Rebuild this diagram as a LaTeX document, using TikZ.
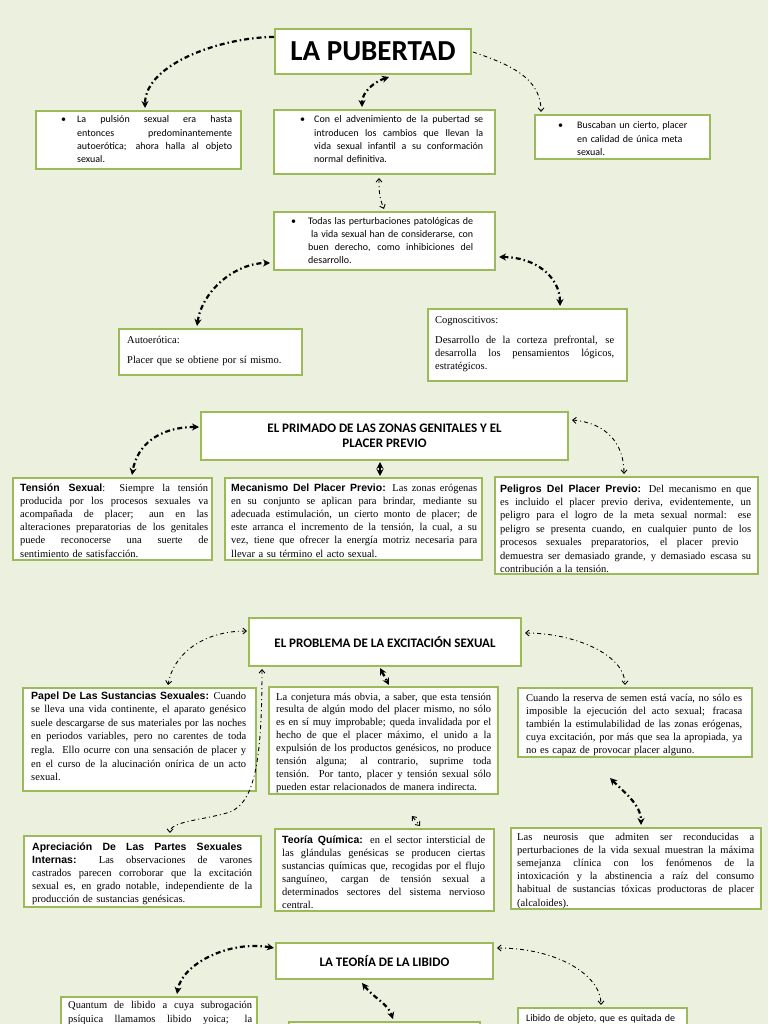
\documentclass[tikz,border=0pt]{standalone}
\usepackage{fontspec}
\setmainfont{Liberation Serif}
\newfontfamily\calfnt{Carlito}
\newfontfamily\arifnt{Liberation Sans}
\usetikzlibrary{arrows.meta,calc}
\definecolor{bg}{HTML}{EBF1DE}
\definecolor{gb}{HTML}{9BBB59}
\newcommand\jl[1]{\leavevmode\hbox to\hsize{\spaceskip=0pt\xspaceskip=0pt #1}}
\newcommand\jlw[2]{\leavevmode\hbox to#1\hsize{\spaceskip=0pt\xspaceskip=0pt #2}}
\newcommand\bx[5]{\node[box, minimum width={#4-#2}, minimum height={#5-#3}] (#1) at (#2,#3) {};}
\newcommand\tb[7]{\node[box, ttl, font=#6, minimum width={#4-#2}, minimum height={#5-#3}] (#1) at (#2,#3) {#7};}
\tikzset{tk/.tip={Stealth[length=7pt,width=7pt]}, tn/.tip={Straight Barb[length=3.5pt,width=6pt]}}
\begin{document}
\begin{tikzpicture}[x=1pt,y=-1pt,
  box/.style={draw=gb, line width=2pt, fill=white, anchor=north west, inner sep=0pt},
  ttl/.style={align=center},
  txt/.style={anchor=base west, inner sep=0pt, align=left},
  sf/.style={font=\calfnt\fontsize{10}{13.3}\selectfont},
  sr/.style={font=\fontsize{10.5}{13.2}\selectfont},
  thk/.style={line width=2.2pt, dash pattern=on 5pt off 3pt on 1.5pt off 3pt, black},
  thn/.style={line width=0.9pt, dash pattern=on 4pt off 3pt on 1pt off 3pt, black}]
\fill[bg] (0,0) rectangle (768,1024);
\useasboundingbox (0,0) rectangle (768,1024);

% ---- boxes ----
\tb{t1}{274}{28}{470}{73}{\calfnt\bfseries\fontsize{29}{32}\selectfont}{\raisebox{-3pt}{LA PUBERTAD}}
\bx{bA}{35}{110}{240}{168}
\bx{bB}{273}{109}{494}{173}
\bx{bC}{534}{114}{709}{158}
\bx{bD}{273}{211}{494}{269}
\bx{bE}{118}{328}{301}{374}
\bx{bF}{427}{308}{626}{380}
\tb{t2}{200}{411}{567}{459}{\calfnt\bfseries\fontsize{13}{15.5}\selectfont}{EL PRIMADO DE LAS ZONAS GENITALES Y EL\\PLACER PREVIO}
\bx{bTS}{12}{477}{211}{559}
\bx{bMP}{224}{477}{481}{559}
\bx{bPP}{494}{476}{757}{573}
\tb{t3}{248}{617}{520}{665}{\calfnt\bfseries\fontsize{13}{15.5}\selectfont}{EL PROBLEMA DE LA EXCITACIÓN SEXUAL}
\bx{bPa}{22}{687}{255}{790}
\bx{bCo}{268}{686}{497}{793}
\bx{bCu}{517}{687}{751}{756}
\bx{bAp}{23}{835}{260}{906}
\bx{bTQ}{274}{828}{493}{910}
\bx{bNe}{510}{827}{760}{908}
\tb{t4}{275}{942}{492}{978}{\calfnt\bfseries\fontsize{13}{15.5}\selectfont}{LA TEORÍA DE LA LIBIDO}
\bx{bQu}{60}{996}{256}{1040}
\bx{bLo}{517}{1007}{686}{1040}
\bx{bMi}{288}{1021}{479}{1040}

% ---- texts ----
\node[txt, sf, text width=155pt] (tA) at (77,123) {\llap{•\hspace{11pt}}\jl{La pulsión sexual era hasta}\\\jl{entonces predominantemente}\\\jl{autoerótica; ahora halla al objeto}\\sexual.};
\node[txt, sf, text width=169pt] (tB) at (314,123) {\llap{•\hspace{9pt}}\jl{Con el advenimiento de la pubertad se}\\\jl{introducen los cambios que llevan la}\\\jl{vida sexual infantil a su conformación}\\normal definitiva.};
\node[txt, sf, text width=128pt] (tC) at (577,129) {\llap{•\hspace{14pt}}Buscaban un cierto, placer\\en calidad de única meta\\sexual.};
\node[txt, font=\calfnt\fontsize{10}{13}\selectfont, text width=165pt] (tD) at (308,225) {\llap{•\hspace{12pt}}\jl{Todas las perturbaciones patológicas de}\\\jl{\hspace{3pt}la vida sexual han de considerarse, con}\\\jl{buen derecho, como inhibiciones del}\\desarrollo.};
\node[txt, sr, text width=168pt] (tE) at (127,343) {Autoerótica:\\[7pt]Placer que se obtiene por sí mismo.};
\node[txt, sr, text width=179pt] (tF) at (435,323) {Cognoscitivos:\\[7pt]\jl{Desarrollo de la corteza prefrontal, se}\\\jl{desarrolla los pensamientos lógicos,}\\estratégicos.};

\node[txt, sr, text width=188pt] (tTS) at (20,491) {\jl{{\arifnt\bfseries Tensión Sexual}: Siempre la tensión}\\\jl{producida por los procesos sexuales va}\\\jl{acompañada de placer; aun en las}\\\jl{alteraciones preparatorias de los genitales}\\\jl{puede reconocerse una suerte de}\\sentimiento de satisfacción.};
\node[txt, sr, text width=246pt] (tMP) at (231,491) {\jl{{\arifnt\bfseries Mecanismo Del Placer Previo:} Las zonas erógenas}\\\jl{en su conjunto se aplican para brindar, mediante su}\\\jl{adecuada estimulación, un cierto monto de placer; de}\\\jl{este arranca el incremento de la tensión, la cual, a su}\\\jl{vez, tiene que ofrecer la energía motriz necesaria para}\\llevar a su término el acto sexual.};
\node[txt, font=\fontsize{10.5}{13.4}\selectfont, text width=251pt] (tPP) at (500,492) {\jl{{\arifnt\bfseries Peligros Del Placer Previo:} Del mecanismo en que}\\\jl{es incluido el placer previo deriva, evidentemente, un}\\\jl{peligro para el logro de la meta sexual normal: ese}\\\jl{peligro se presenta cuando, en cualquier punto de los}\\\jlw{0.95}{procesos sexuales preparatorios, el placer previo}\\\jl{demuestra ser demasiado grande, y demasiado escasa su}\\contribución a la tensión.};

\node[txt, font=\fontsize{10.5}{13.6}\selectfont, text width=215pt] (tPa) at (31,699) {\jl{{\arifnt\bfseries Papel De Las Sustancias Sexuales:} Cuando}\\\jl{se lleva una vida continente, el aparato genésico}\\\jl{suele descargarse de sus materiales por las noches}\\\jl{en periodos variables, pero no carentes de toda}\\\jl{regla. Ello ocurre con una sensación de placer y}\\\jl{en el curso de la alucinación onírica de un acto}\\sexual.};
\node[txt, font=\fontsize{10.5}{12.9}\selectfont, text width=215pt] (tCo) at (276,700) {\jl{La conjetura más obvia, a saber, que esta tensión}\\\jl{resulta de algún modo del placer mismo, no sólo}\\\jl{es en sí muy improbable; queda invalidada por el}\\\jl{hecho de que el placer máximo, el unido a la}\\\jl{expulsión de los productos genésicos, no produce}\\\jl{tensión alguna; al contrario, suprime toda}\\\jl{tensión. Por tanto, placer y tensión sexual sólo}\\pueden estar relacionados de manera indirecta.};
\node[txt, sr, text width=216pt] (tCu) at (526,701) {\jl{Cuando la reserva de semen está vacía, no sólo es}\\\jl{imposible la ejecución del acto sexual; fracasa}\\\jl{también la estimulabilidad de las zonas erógenas,}\\\jl{cuya excitación, por más que sea la apropiada, ya}\\no es capaz de provocar placer alguno.};

\node[txt, font=\fontsize{10.5}{13}\selectfont, text width=220pt] (tAp) at (32,850) {\jlw{0.955}{\arifnt\bfseries Apreciación De Las Partes Sexuales}\\\jl{{\arifnt\bfseries Internas:} Las observaciones de varones}\\\jl{castrados parecen corroborar que la excitación}\\\jl{sexual es, en grado notable, independiente de la}\\producción de sustancias genésicas.};
\node[txt, font=\fontsize{10.5}{13}\selectfont, text width=203pt] (tTQ) at (282,843) {\jl{{\arifnt\bfseries Teoría Química:} en el sector intersticial de}\\\jl{las glándulas genésicas se producen ciertas}\\\jl{sustancias químicas que, recogidas por el flujo}\\\jl{sanguíneo, cargan de tensión sexual a}\\\jl{determinados sectores del sistema nervioso}\\central.};
\node[txt, sr, text width=237pt] (tNe) at (517,840) {\jl{Las neurosis que admiten ser reconducidas a}\\\jl{perturbaciones de la vida sexual muestran la máxima}\\\jl{semejanza clínica con los fenómenos de la}\\\jl{intoxicación y la abstinencia a raíz del consumo}\\\jl{habitual de sustancias tóxicas productoras de placer}\\(alcaloides).};

\node[txt, font=\fontsize{10.5}{14}\selectfont, text width=184pt] (tQu) at (68,1008) {\jl{Quantum de libido a cuya subrogación}\\\jl{psíquica llamamos libido yoica; la}};
\node[txt, sf, text width=152pt] (tLo) at (526,1021) {Libido de objeto, que es quitada de};

% ---- connectors ----
\coordinate (c11) at (230,812);
\draw[thk, -{tk}] ($(t1.north west)+(0,9)$) .. controls +(-50,0) and +(0,-45) .. ($(bA.north west)+(110,-2)$);
\draw[thk, {tk}-{tk}] ($(t1.south west)+(115,2)$) .. controls +(-15,5) and +(0,-15) .. ($(bB.north west)+(89,-2)$);
\draw[thn, -{tn}] ($(t1.north east)+(1,24)$) .. controls +(35,12) and +(0,-35) .. ($(bC.north west)+(7,-2)$);
\draw[thn, {tn}-{tn}] ($(bB.south west)+(106,3)$) .. controls +(0,12) and +(-5,-12) .. ($(bD.north west)+(111,-2)$);
\draw[thk, {tk}-{tk}] ($(bE.north west)+(79,-2)$) .. controls +(5,-35) and +(-35,0) .. ($(bD.north west)+(-3,52)$);
\draw[thk, {tk}-{tk}] ($(bD.north east)+(3,46)$) .. controls +(35,0) and +(0,-30) .. ($(bF.north west)+(133,-2)$);
\draw[thk, {tk}-{tk}] ($(t2.north west)+(-1,16)$) .. controls +(-40,0) and +(5,-30) .. ($(bTS.north west)+(120,-2)$);
\draw[thk, {tk}-{tk}] ($(t2.south west)+(180,1)$) -- ($(bMP.north west)+(156,-1)$);
\draw[thn, {tn}-{tn}] ($(t2.north east)+(3,9)$) .. controls +(35,3) and +(0,-30) .. ($(bPP.north west)+(130,-2)$);
\draw[thn, {tn}-{tn}] ($(t3.north west)+(-1,14)$) .. controls +(-45,0) and +(5,-30) .. ($(bPa.north west)+(146,-2)$);
\draw[thn, {tn}-{tn}] ($(t3.south west)+(14,2)$) .. controls +(0,90) and +(25,-10) .. (c11) .. controls +(-25,8) and +(0,-12) .. ($(bAp.north west)+(147,-2)$);
\draw[thk, {tk}-{tk}] ($(t3.south west)+(132,1)$) -- ($(bCo.north west)+(121,-1)$);
\draw[thn, {tn}-{tn}] ($(bTQ.north west)+(138,-12)$) -- ($(bTQ.north west)+(146,-2)$);
\draw[thn, {tn}-{tn}] ($(t3.north east)+(3,16)$) .. controls +(50,0) and +(0,-30) .. ($(bCu.north west)+(108,-2)$);
\draw[thk, {tk}-{tk}] ($(bCu.south west)+(93,20)$) .. controls +(15,15) and +(0,-20) .. ($(bNe.north west)+(131,-2)$);
\draw[thk, {tk}-{tk}] ($(t4.north west)+(-1,6)$) .. controls +(-45,-8) and +(5,-30) .. ($(bQu.north west)+(117,-2)$);
\draw[thk, {tk}-{tk}] ($(t4.south west)+(87,3)$) .. controls +(12,15) and +(-5,-15) .. ($(bMi.north west)+(105,-2)$);
\draw[thn, {tn}-{tn}] ($(t4.north east)+(3,6)$) .. controls +(60,0) and +(0,-30) .. ($(bLo.north west)+(84,-2)$);
\end{tikzpicture}
\end{document}
